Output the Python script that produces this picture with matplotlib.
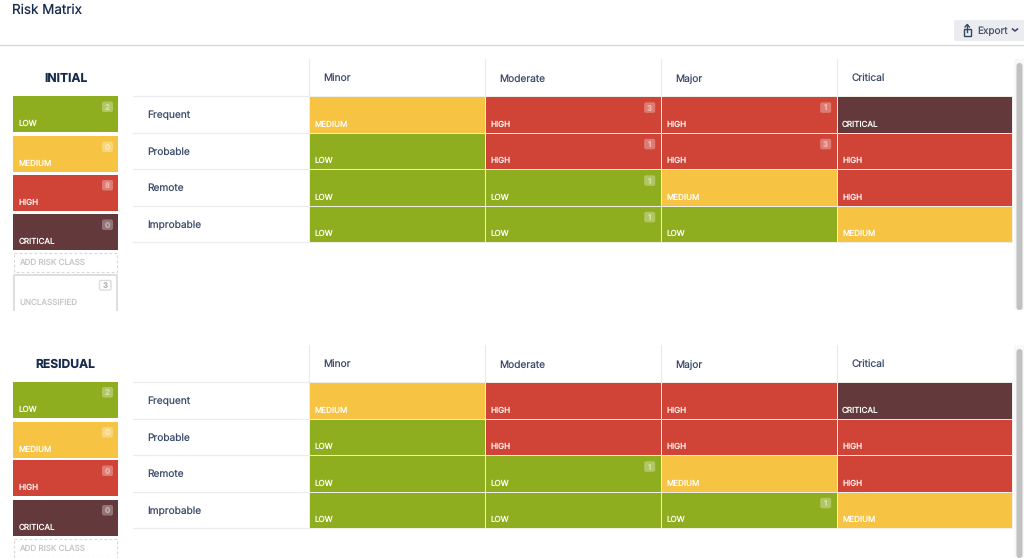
import matplotlib
matplotlib.use("Agg")
import matplotlib.pyplot as plt
from matplotlib.patches import Rectangle, FancyBboxPatch

plt.rcParams['font.family'] = ['Inter', 'DejaVu Sans']
plt.rcParams['text.hinting'] = 'no_hinting'

likelihood = ['Frequent', 'Probable', 'Remote', 'Improbable']
consequence = ['Minor', 'Moderate', 'Major', 'Critical']
risk_classes = ['LOW', 'MEDIUM', 'HIGH', 'CRITICAL']

matrix_classes = [
    ['MEDIUM', 'HIGH', 'HIGH', 'CRITICAL'],
    ['LOW', 'HIGH', 'HIGH', 'HIGH'],
    ['LOW', 'LOW', 'MEDIUM', 'HIGH'],
    ['LOW', 'LOW', 'LOW', 'MEDIUM'],
]

initial_counts = [
    [0, 3, 1, 0],
    [0, 1, 3, 0],
    [0, 1, 0, 0],
    [0, 1, 0, 0],
]
residual_counts = [
    [0, 0, 0, 0],
    [0, 0, 0, 0],
    [0, 1, 0, 0],
    [0, 0, 1, 0],
]

initial_totals = [2, 0, 8, 0]
residual_totals = [2, 0, 0, 0]
initial_unclassified = 3

colors = {'LOW': '#8fae1f', 'MEDIUM': '#f6c342', 'HIGH': '#d04437', 'CRITICAL': '#63393b'}
navy = '#172b4d'
slate = '#3d4d6b'

col_edges = [308.7, 484.7, 660.7, 836.7, 1012.3]
row_h = 36.5
card_tops = [0, 40, 78.5, 118]
card_h = 36


def badge(ax, right, top, value, edge=False):
    w = 11 if not edge else 13.5
    if edge:
        ax.add_patch(FancyBboxPatch((right - w + 1, top + 1), w - 2, 9.5, boxstyle='round,pad=0,rounding_size=1.5',
                                    fc='white', ec='#dcdcdc', lw=1))
        tcol = '#b5b5b5'
    else:
        ax.add_patch(FancyBboxPatch((right - w, top), w, 10.5, boxstyle='round,pad=0,rounding_size=2',
                                    fc='white', ec='none', alpha=0.3))
        tcol = (1, 1, 1, 0.45)
    ax.text(right - w / 2, top + 8.2, str(value), fontsize=5.6, fontweight='bold', color=tcol, ha='center', va='baseline')


def draw_block(ax, name, y0, side_y0, totals, counts, bar_top, bar_bottom, unclassified=None):
    ax.text(65.5, y0 - 14.2, name, fontsize=8.7, fontweight='bold', color=navy, ha='center', va='baseline')

    # left cards
    for cls, total, t in zip(risk_classes, totals, card_tops):
        top = side_y0 + t
        ax.add_patch(Rectangle((13.3, top), 104.2, card_h, fc=colors[cls], ec='none'))
        ax.text(18.3, top + 30.2, cls, fontsize=5.8, color='white', ha='left', va='baseline')
        badge(ax, 113, top + 5.5, total)

    add_top = side_y0 + 157
    ax.add_patch(Rectangle((13.5, add_top), 103.5, 19, fc='white', ec='#d8d8d8', lw=0.8, ls=(0, (2.5, 2))))
    ax.text(19, add_top + 12.3, 'ADD RISK CLASS', fontsize=5.8, color='#c6c6c6', ha='left', va='baseline')

    if unclassified is not None:
        top = add_top + 22
        ax.plot([14, 14, 117, 117], [310, top, top, 310], color='#dedede', lw=1.4)
        ax.text(19, top + 29.5, 'UNCLASSIFIED', fontsize=5.8, color='#c6c6c6', ha='left', va='baseline')
        badge(ax, 112, top + 4.5, unclassified, edge=True)

    # header
    for j, label in enumerate(consequence):
        ax.plot([col_edges[j]] * 2, [y0 - 37, y0], color='#ebecf0', lw=0.9)
        ax.text(col_edges[j] + 14.5, y0 - 14.2, label, fontsize=7.3, color=slate, ha='left', va='baseline')

    # row labels
    for i, label in enumerate(likelihood):
        ax.plot([133, 309], [y0 + i * row_h] * 2, color='#ebecf0', lw=0.9)
        ax.text(147.5, y0 + i * row_h + 21.8, label, fontsize=7.3, color=slate, ha='left', va='baseline')
    ax.plot([133, 309], [y0 + 4 * row_h] * 2, color='#ebecf0', lw=0.9)

    # matrix cells
    for i, row in enumerate(matrix_classes):
        for j, cls in enumerate(row):
            x = col_edges[j]
            w = col_edges[j + 1] - x
            y = y0 + i * row_h
            ax.add_patch(Rectangle((x, y), w, row_h, fc=colors[cls], ec='#f0f0e8', lw=0.7))
            ax.text(x + 5.3, y + 30.6, cls, fontsize=5.8, color='white', ha='left', va='baseline')
            if counts[i][j] > 0:
                badge(ax, x + w - 5.5, y + 6, counts[i][j])

    # scrollbar
    ax.add_patch(Rectangle((1014, y0 - 37), 10, bar_bottom - y0 + 37, fc='#f8f8f8', ec='none'))
    ax.add_patch(FancyBboxPatch((1016.5, bar_top), 6, bar_bottom - bar_top, boxstyle='round,pad=0,rounding_size=3',
                                fc='#c1c1c1', ec='none'))


fig = plt.figure(figsize=(10.24, 5.58), dpi=100)
ax = fig.add_axes([0, 0, 1, 1])
ax.set_xlim(0, 1024)
ax.set_ylim(558, 0)
ax.axis('off')

ax.text(12, 13.8, 'Risk Matrix', fontsize=9.7, color=navy, ha='left', va='baseline')
ax.plot([0, 1024], [45.3, 45.3], color='#d8d8d8', lw=1)

# export button
ax.add_patch(FancyBboxPatch((954, 20), 80, 21, boxstyle='round,pad=0,rounding_size=2.5', fc='#ebecf0', ec='none'))
ax.add_patch(Rectangle((963.5, 29), 7.5, 6.5, fc='none', ec='#344563', lw=1))
ax.plot([967.2, 967.2], [25, 32], color='#344563', lw=1)
ax.plot([965, 967.2, 969.4], [27, 24.5, 27], color='#344563', lw=1)
ax.text(977, 34.3, 'Export', fontsize=7.2, color='#42526e', ha='left', va='baseline')
ax.plot([1012.5, 1015, 1017.5], [29, 31, 29], color='#344563', lw=1.1)

draw_block(ax, 'INITIAL', 96.3, 96, initial_totals, initial_counts, 63, 310, initial_unclassified)
draw_block(ax, 'RESIDUAL', 382.3, 381.5, residual_totals, residual_counts, 349, 558)

fig.savefig('out.png', dpi=100)
